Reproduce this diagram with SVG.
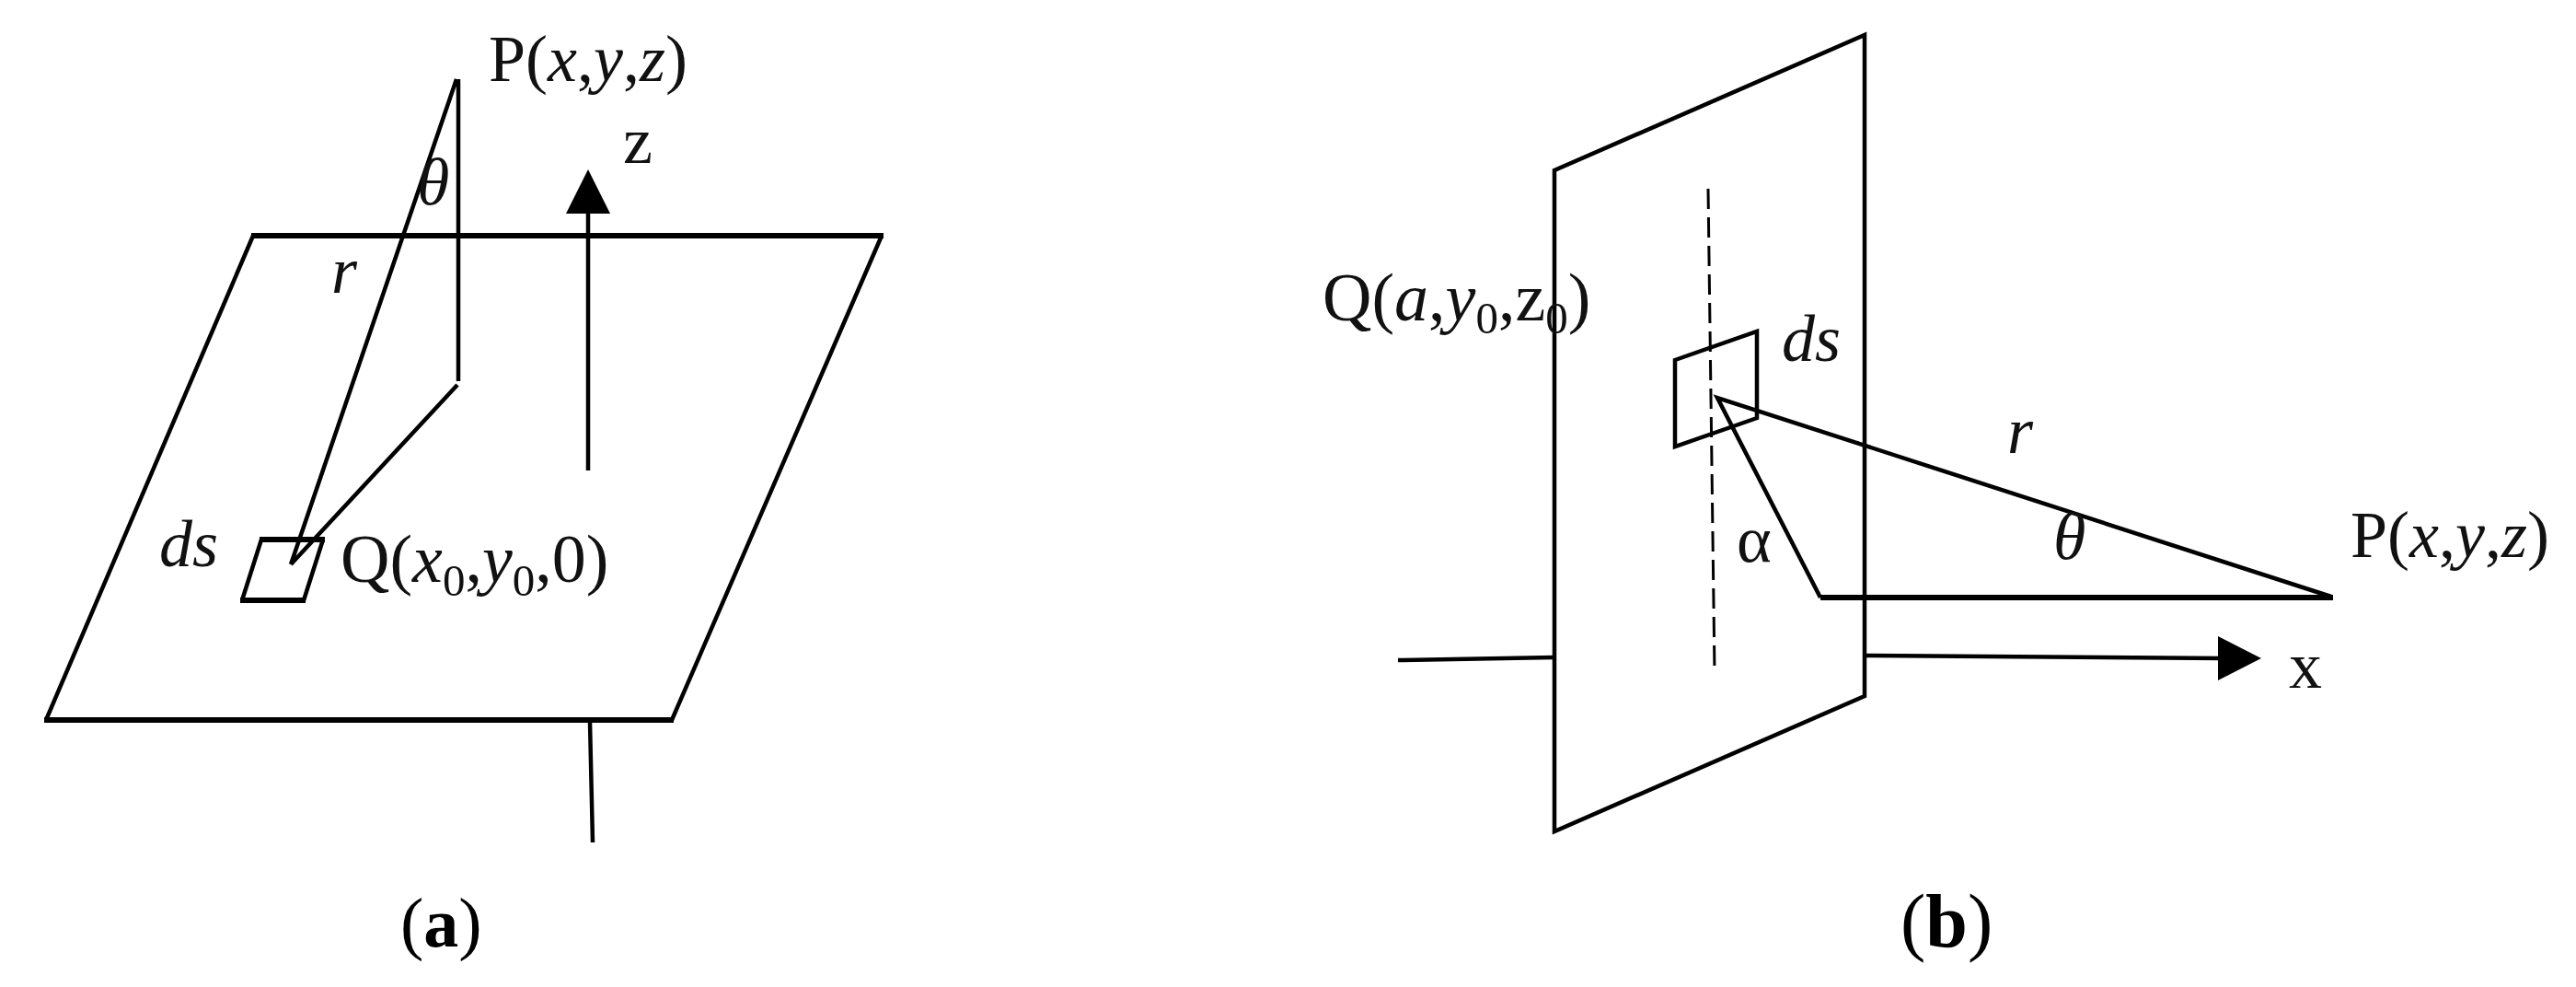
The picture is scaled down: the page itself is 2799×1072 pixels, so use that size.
<svg xmlns="http://www.w3.org/2000/svg" width="2799" height="1072" viewBox="0 0 2799 1072">
<style>
text{font-family:"Liberation Serif","Times New Roman",serif;font-size:72px;fill:#111}
.i{font-style:italic}
.q{font-size:74px}
.s{font-size:49px}
.b{font-weight:bold}
.ca{font-size:76px;fill:#000}
.cb{font-size:82px;fill:#000}
.l{fill:none;stroke:#000;stroke-width:4.5;stroke-linejoin:miter}
.h{fill:none;stroke:#000;stroke-width:6}
.d{fill:none;stroke:#000;stroke-width:3;stroke-dasharray:22 9}
</style>
<rect width="2799" height="1072" fill="#fff"/>
<g id="panel-a">
<g id="plane-a"><path class="l" d="M275 256 L50 782 M958 256 L730 782"/><path class="h" d="M273 256 H960 M48 782 H732"/></g>
<g id="patch-a"><path class="l" d="M284 586 L263 652 M351 586 L330 652"/><path class="h" d="M282 586 H353 M261 652 H332"/></g>
<g id="connectors-a">
<path class="l" d="M496 86 L316 613 M498 86 V414 M497 418 L316 613"/>
<path class="l" d="M639 511 V230 M641 784 L644 915"/>
<polygon points="639,184 663,232 615,232" fill="#000"/>
</g>
<g id="labels-a">
<text x="531" y="88">P(<tspan class="i">x</tspan>,<tspan class="i">y</tspan>,<tspan class="i">z</tspan>)</text>
<text x="677" y="177">z</text>
<text class="i" x="453" y="222">θ</text>
<text class="i" x="360" y="318">r</text>
<text class="i" x="173" y="615">ds</text>
<text class="q" x="370" y="632">Q(<tspan class="i">x</tspan><tspan class="s" dy="15">0</tspan><tspan dy="-15">,</tspan><tspan class="i">y</tspan><tspan class="s" dy="15">0</tspan><tspan dy="-15">,0)</tspan></text>
<text class="ca" x="435" y="1028">(<tspan class="b">a</tspan>)</text>
</g>
</g>
<g id="panel-b">
<g id="plane-b"><path class="l" d="M1689 903 V185 L2026 38 V756 Z"/></g>
<g id="patch-b"><path class="l" d="M1820 391 L1909 360 V454 L1820 485 Z"/></g>
<g id="connectors-b">
<path class="d" d="M1856 205 L1863 730"/>
<path class="l" d="M2533 648 L1866 432 L1978 649"/>
<path class="h" d="M1978 649 H2535"/>
<path class="l" d="M1519 717 L1689 714"/>
<path class="l" d="M2028 712 L2415 715"/>
<polygon points="2457,715 2410,739 2410,691" fill="#000"/>
</g>
<g id="labels-b">
<text class="q" x="1437" y="348">Q(<tspan class="i">a</tspan>,<tspan class="i">y</tspan><tspan class="s" dy="14">0</tspan><tspan dy="-14">,z</tspan><tspan class="s" dy="14">0</tspan><tspan dy="-14">)</tspan></text>
<text class="i" x="1936" y="392">ds</text>
<text class="i" x="2181" y="492">r</text>
<text class="i" x="2231" y="607">θ</text>
<text x="1887" y="610">α</text>
<text x="2554" y="605">P(<tspan class="i">x</tspan>,<tspan class="i">y</tspan>,<tspan class="i">z</tspan>)</text>
<text x="2487" y="747">x</text>
<text class="cb" x="2065" y="1028">(<tspan class="b">b</tspan>)</text>
</g>
</g>
</svg>
